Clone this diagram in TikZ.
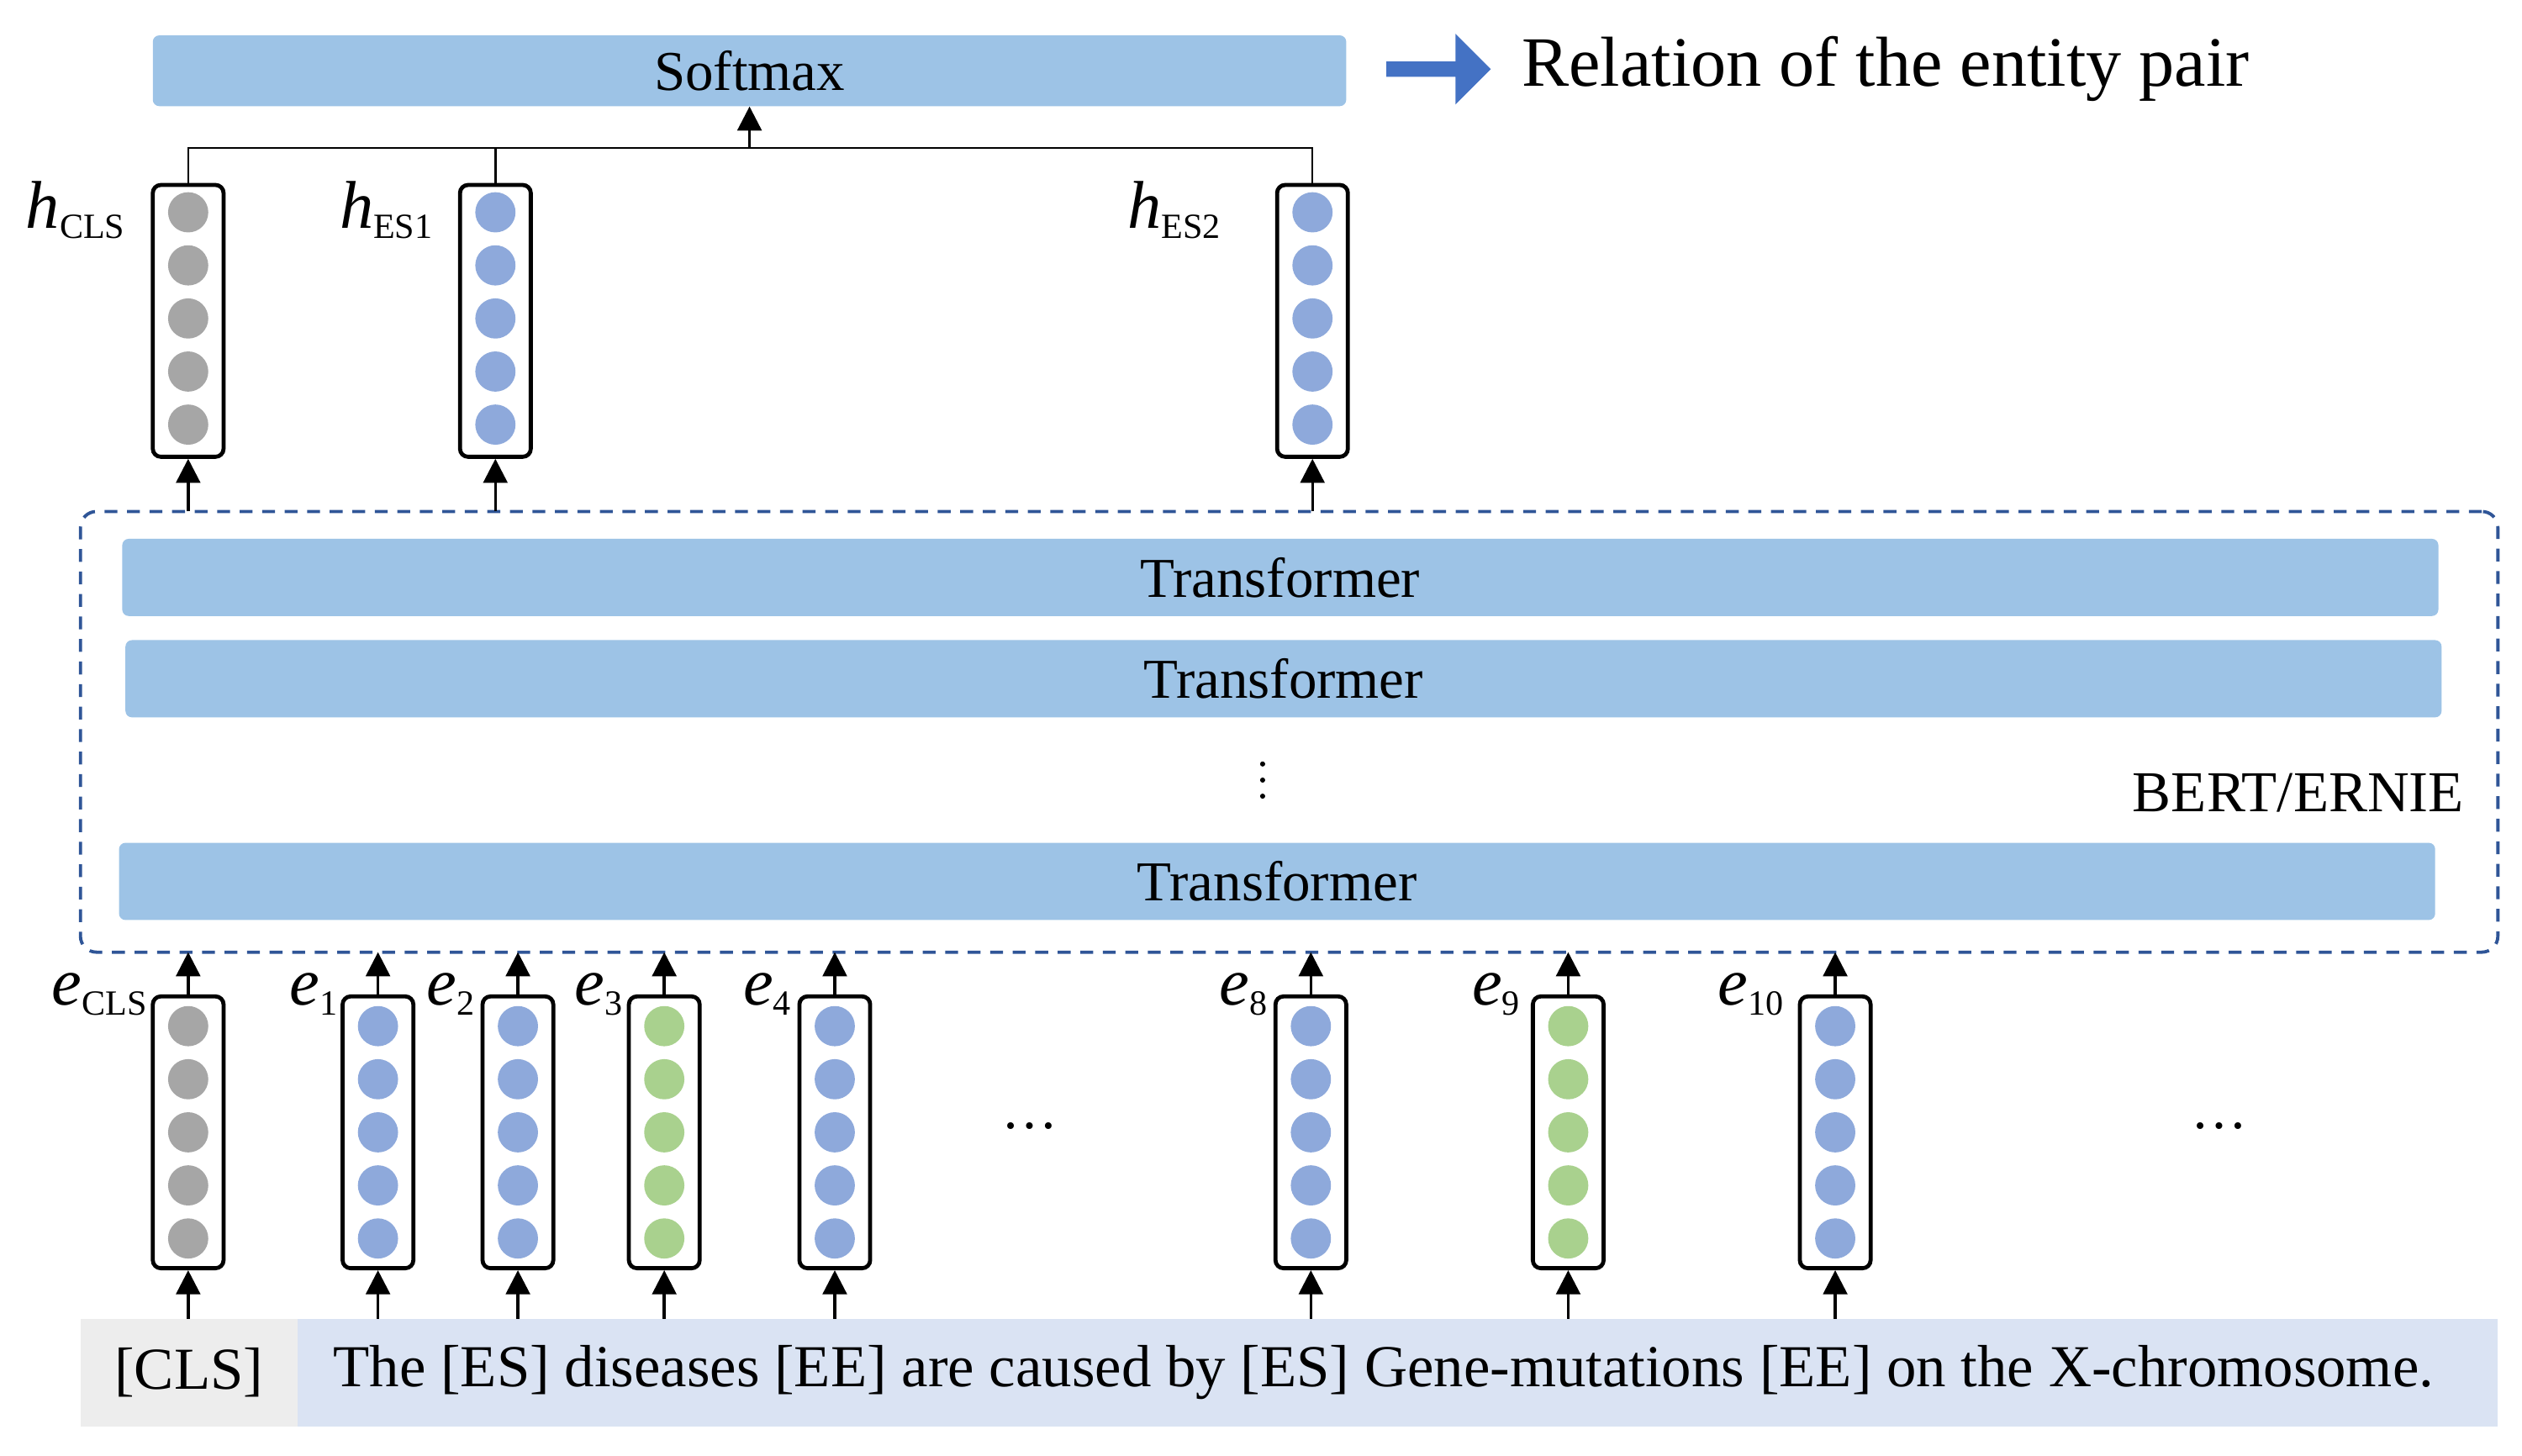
\documentclass[tikz,border=0pt]{standalone}
\usepackage{fontspec}
\setmainfont{Liberation Serif}
\usetikzlibrary{arrows.meta,shapes.arrows}
\definecolor{barblue}{HTML}{9DC3E6}
\definecolor{cgray}{HTML}{A6A6A6}
\definecolor{cblue}{HTML}{8EA9DB}
\definecolor{cgreen}{HTML}{A9D18E}
\definecolor{dashblue}{HTML}{2F5597}
\definecolor{bandblue}{HTML}{DAE3F3}
\definecolor{bandgray}{HTML}{EDEDED}
\definecolor{arrblue}{HTML}{4472C4}
\begin{document}
\begin{tikzpicture}[x=1pt,y=-1pt,
  bar/.style={fill=barblue,draw=none,rounded corners=4pt,minimum height=#1,inner sep=0pt},
  vec/.style={draw=black,line width=2.5pt,rounded corners=5pt,minimum width=44pt,minimum height=169pt,inner sep=0pt},
  arr/.style={-{Triangle[length=15pt,width=15pt]},line width=1.8pt},
  lab/.style={font=\fontsize{42}{42}\selectfont\itshape,inner sep=0pt,anchor=base west},
  txt/.style={font=\fontsize{35}{35}\selectfont,inner sep=0pt}]
\useasboundingbox (0,0) rectangle (1568,905);
% softmax
\node[bar=44pt,minimum width=742pt,txt] (soft) at (466,44) {Softmax};
\node[single arrow,fill=arrblue,draw=none,minimum height=65pt,minimum width=44pt,single arrow head extend=8pt,inner sep=2pt] (bigarr) at (892,43) {};
\node[font=\fontsize{44}{44}\selectfont,anchor=west,inner sep=0pt] (rel) at (946,43) {Relation of the entity pair};
% dashed box
\node[draw=dashblue,dashed,line width=2pt,rounded corners=10pt,minimum width=1503pt,minimum height=274pt,inner sep=0pt,dash pattern=on 8pt off 6pt] (bert) at (801.5,455) {};
\node[bar=48pt,minimum width=1440pt,txt] (t1) at (796,359) {Transformer};
\node[bar=48pt,minimum width=1440pt,txt] (t2) at (798,422) {Transformer};
\node[bar=48pt,minimum width=1440pt,txt] (t3) at (794,548) {Transformer};
\foreach \y in {475,485,495} \fill (785,\y) circle (1.6pt);
\node[txt,anchor=east,font=\fontsize{36}{36}\selectfont] (bn) at (1532,493) {BERT/ERNIE};
% top vectors
\foreach \n/\x/\c in {hc/117/cgray,h1/308/cblue,h2/816/cblue}{
  \node[vec] (\n) at (\x,199.5) {};
  \foreach \y in {132,165,198,231,264} \fill[\c] (\x,\y) circle (12.5pt);
  \coordinate (\n b) at (\x,318);
  \draw[arr] (\n b) -- (\n.south);
}
\node[lab] (lhc) at (16,142) {h\textsubscript{\fontsize{22}{22}\selectfont\upshape CLS}};
\node[lab] (lh1) at (211,142) {h\textsubscript{\fontsize{22}{22}\selectfont\upshape ES1}};
\node[lab] (lh2) at (701,142) {h\textsubscript{\fontsize{22}{22}\selectfont\upshape ES2}};
\coordinate (j) at (466,92);
\draw[line width=1.3pt] (hc.north) |- (h2.north |- j) -- (h2.north);
\draw[line width=1.3pt] (h1.north) -- (h1.north |- j);
\draw[arr] (j) -- (soft.south);
% bottom band
\node[fill=bandgray,minimum width=135pt,minimum height=67pt,inner sep=0pt,txt,font=\fontsize{37}{37}\selectfont] (cls) at (117.5,853.5) {[CLS]};
\node[fill=bandblue,minimum width=1368pt,minimum height=67pt,inner sep=0pt] (band) at (869,853.5) {};
\node[txt,anchor=west,font=\fontsize{37}{37}\selectfont] (sent) at (207,853.5) {The [ES] diseases [EE] are caused by [ES] Gene-mutations [EE] on the X-chromosome.};
% bottom vectors
\foreach \n/\x/\c/\l/\lx in {ec/117/cgray/CLS/32,e1/235/cblue/1/180,e2/322/cblue/2/265,e3/413/cgreen/3/357,e4/519/cblue/4/462,e8/815/cblue/8/758,e9/975/cgreen/9/915,e10/1141/cblue/10/1068}{
  \node[vec] (\n) at (\x,704) {};
  \foreach \y in {638,671,704,737,770} \fill[\c] (\x,\y) circle (12.5pt);
  \coordinate (\n t) at (\x,592);
  \coordinate (\n s) at (\x,820);
  \draw[arr] (\n.north) -- (\n t);
  \draw[arr] (\n s) -- (\n.south);
  \node[lab] (l\n) at (\lx,625) {e\textsubscript{\fontsize{22}{22}\selectfont\upshape \l}};
}
\node[txt] (d1) at (640,700) {\dots};
\node[txt] (d2) at (1380,700) {\dots};
\end{tikzpicture}
\end{document}
